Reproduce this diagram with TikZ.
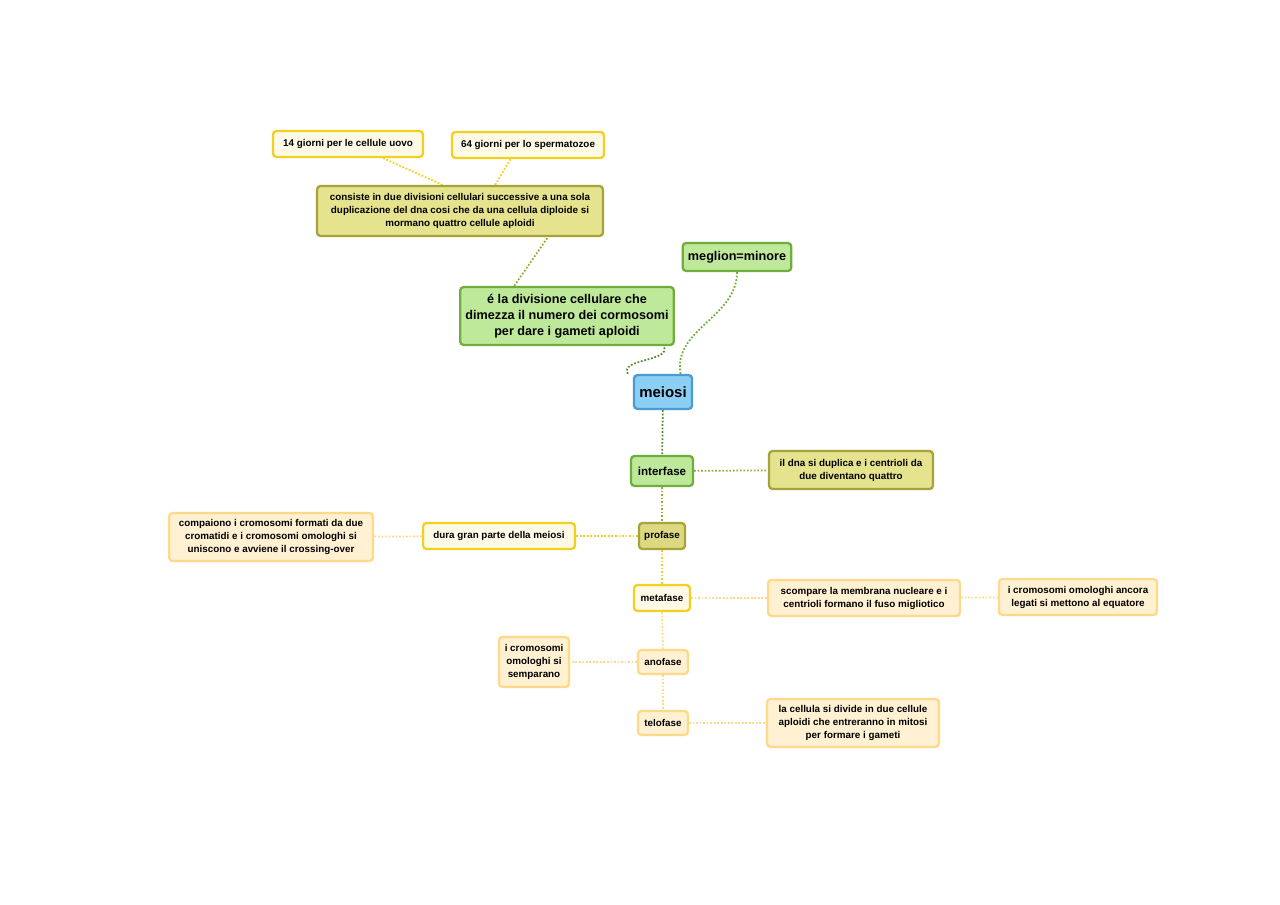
\documentclass[tikz,border=0pt]{standalone}
\usepackage{fontspec}
\setmainfont{Liberation Sans}
\usetikzlibrary{backgrounds}
\definecolor{bluefill}{HTML}{8CCFF5}
\definecolor{blueline}{HTML}{4A9BD0}
\definecolor{greenfill}{HTML}{BFE99A}
\definecolor{greenline}{HTML}{6FAE3C}
\definecolor{olivefill}{HTML}{E6E38F}
\definecolor{oliveline}{HTML}{A5A33A}
\definecolor{yelfill}{HTML}{FFFAE6}
\definecolor{yelline}{HTML}{F0D020}
\definecolor{orfill}{HTML}{FFF1D2}
\definecolor{orline}{HTML}{FFD98A}
\tikzset{
  box/.style={draw, line width=1.3pt, rounded corners=2pt, align=center, font=\bfseries\fontsize{5.6}{7.4}\selectfont, inner sep=3pt},
  root/.style={box, fill=bluefill, draw=blueline, font=\bfseries\fontsize{8.5}{10}\selectfont, minimum width=1.16cm, minimum height=0.68cm},
  greenbox/.style={box, fill=greenfill, draw=greenline},
  olivebox/.style={box, fill=olivefill, draw=oliveline},
  yelbox/.style={box, fill=yelfill, draw=yelline},
  orbox/.style={box, fill=orfill, draw=orline},
  link/.style={densely dotted, line width=1pt}
}
\begin{document}
\begin{tikzpicture}[x=0.02cm, y=-0.02cm]
\useasboundingbox (0,0) rectangle (1280,905);
\node[root] (meiosi) at (663,392) {meiosi};
\node[greenbox, font=\bfseries\fontsize{7.2}{9}\selectfont, minimum width=4.2cm, minimum height=1.16cm] (def) at (567,316) {é la divisione cellulare che\\dimezza il numero dei cormosomi\\per dare i gameti aploidi};
\node[greenbox, font=\bfseries\fontsize{7.2}{9}\selectfont, minimum width=2.16cm, minimum height=0.56cm] (meglion) at (737,257) {meglion=minore};
\node[olivebox, minimum width=5.72cm, minimum height=1cm] (consiste) at (460,211) {consiste in due divisioni cellulari successive a una sola\\duplicazione del dna cosi che da una cellula diploide si\\mormano quattro cellule aploidi};
\node[yelbox, minimum width=3cm, minimum height=0.52cm] (uovo) at (348,144) {14 giorni per le cellule uovo};
\node[yelbox, minimum width=3.04cm, minimum height=0.52cm] (sperma) at (528,145) {64 giorni per lo spermatozoe};
\node[greenbox, font=\bfseries\fontsize{6.6}{8}\selectfont, minimum width=1.24cm, minimum height=0.6cm] (interfase) at (662,471) {interfase};
\node[olivebox, minimum width=3.28cm, minimum height=0.76cm] (dna) at (851,470) {il dna si duplica e i centrioli da\\due diventano quattro};
\node[olivebox, fill=olivefill!85!oliveline, minimum width=0.92cm, minimum height=0.52cm] (profase) at (662,536) {profase};
\node[yelbox, minimum width=3.04cm, minimum height=0.52cm] (dura) at (499,536) {dura gran parte della meiosi};
\node[orbox, minimum width=4.08cm, minimum height=0.96cm] (compaiono) at (271,537) {compaiono i cromosomi formati da due\\cromatidi e i cromosomi omologhi si\\uniscono e avviene il crossing-over};
\node[yelbox, minimum width=1.12cm, minimum height=0.52cm] (metafase) at (662,598) {metafase};
\node[orbox, minimum width=3.84cm, minimum height=0.72cm] (scompare) at (864,598) {scompare la membrana nucleare e i\\centrioli formano il fuso migliotico};
\node[orbox, minimum width=3.16cm, minimum height=0.72cm] (legati) at (1078,597) {i cromosomi omologhi ancora\\legati si mettono al equatore};
\node[orbox, minimum width=1cm, minimum height=0.48cm] (anofase) at (663,662) {anofase};
\node[orbox, minimum width=1.4cm, minimum height=1cm] (separano) at (534,662) {i cromosomi\\omologhi si\\semparano};
\node[orbox, minimum width=1cm, minimum height=0.48cm] (telofase) at (663,723) {telofase};
\node[orbox, minimum width=3.44cm, minimum height=0.96cm] (cellula) at (853,723) {la cellula si divide in due cellule\\aploidi che entreranno in mitosi\\per formare i gameti};
% connectors
\begin{scope}[on background layer]
\draw[link, greenline!80!black] ([xshift=-20]meiosi.north) to[out=120,in=-60] ([xshift=55]def.south);
\draw[link, greenline] ([xshift=10]meiosi.north) to[out=100,in=-90] (meglion.south);
\draw[link, oliveline] ([xshift=-30]def.north) -- ([xshift=50]consiste.south);
\draw[link, yelline] ([xshift=-10]consiste.north) -- ([xshift=20]uovo.south);
\draw[link, yelline] ([xshift=20]consiste.north) -- ([xshift=-10]sperma.south);
\draw[link, greenline!80!black] (meiosi) -- (interfase);
\draw[link, oliveline] (interfase) -- (dna);
\draw[link, oliveline] (interfase) -- (profase);
\draw[link, yelline] (profase) -- (dura);
\draw[link, orline] (dura) -- (compaiono);
\draw[link, yelline] (profase) -- (metafase);
\draw[link, orline] (metafase) -- (scompare);
\draw[link, orline] (scompare) -- (legati);
\draw[link, orline] (metafase) -- (anofase);
\draw[link, orline] (anofase) -- (separano);
\draw[link, orline] (anofase) -- (telofase);
\draw[link, orline] (telofase) -- (cellula);
\end{scope}
\end{tikzpicture}
\end{document}
